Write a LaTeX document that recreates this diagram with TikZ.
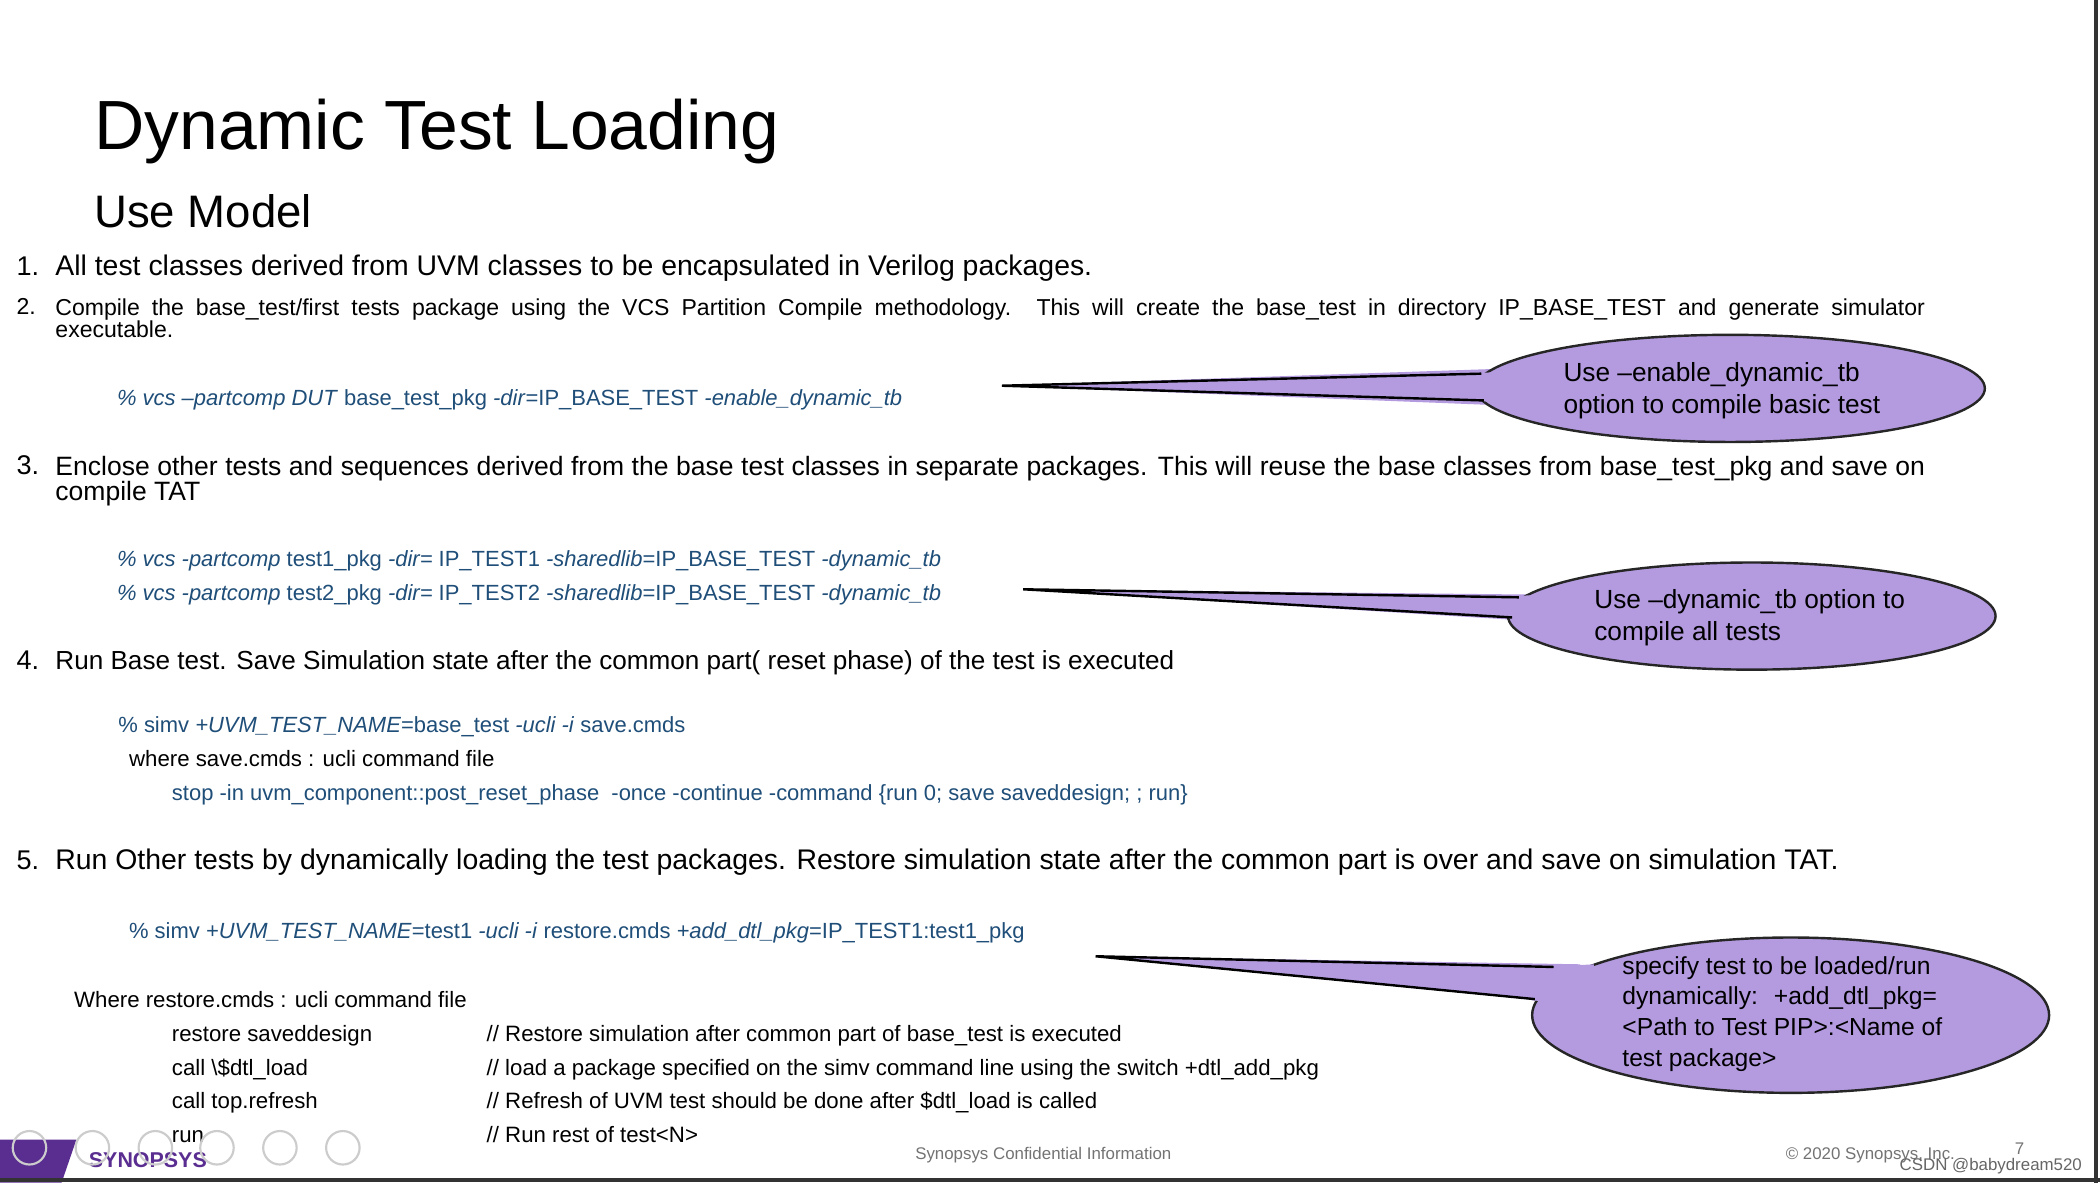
\documentclass[tikz,border=0pt]{standalone}
\usepackage{fontspec}
\setmainfont{Liberation Sans}
\usetikzlibrary{shapes.geometric}
\begin{document}
\begin{tikzpicture}[x=0.5pt,y=-0.5pt,
  every node/.style={inner sep=0pt,anchor=base west},
  tl/.style={font=\fontsize{10.1}{12}\selectfont},
  sm/.style={font=\fontsize{8.6}{8.2}\selectfont},
  cmd/.style={font=\fontsize{8.2}{10}\selectfont,text=cmdblue},
  rs/.style={font=\fontsize{8.3}{10}\selectfont},
  bub/.style={fill=bubble,draw=black!85,line width=0.9pt},
  btxt/.style={font=\fontsize{9.8}{12}\selectfont,align=left,anchor=west},
  foot/.style={font=\fontsize{6.3}{7}\selectfont,text=black!55}]
\definecolor{cmdblue}{HTML}{1F4E79}
\definecolor{bubble}{HTML}{B49BE0}
\definecolor{synp}{HTML}{5A2D91}
\useasboundingbox (0,0) rectangle (1568,883);
\fill[white] (0,0) rectangle (1568,883);
% title
\node[font=\fontsize{26}{30}\selectfont] (title) at (70,112) {Dynamic Test Loading};
\node[font=\fontsize{17}{20}\selectfont] (sub) at (70,170) {Use Model};
% item 1
\node[tl] (n1) at (12,206) {1.};
\node[tl,font=\fontsize{10.6}{12}\selectfont] (t1) at (41,206) {All test classes derived from UVM classes to be encapsulated in Verilog packages.};
% item 2
\node[sm] (n2) at (12,235) {2.};
\node[sm,anchor=north west,text width=698pt,align=justify] (t2) at (41,223) {Compile the base\_test/first tests package using the VCS Partition Compile methodology. This will create the base\_test in directory IP\_BASE\_TEST and generate simulator\linebreak executable.};
\node[cmd] (c1) at (87,303) {\textit{\% vcs –partcomp DUT} base\_test\_pkg \textit{-dir}=IP\_BASE\_TEST \textit{-enable\_dynamic\_tb}};
% item 3
\node[tl] (n3) at (12,354) {3.};
\node[tl,anchor=north west,text width=698pt,align=justify,font=\fontsize{9.9}{9.6}\selectfont] (t3) at (41,340) {Enclose other tests and sequences derived from the base test classes in separate packages. This will reuse the base classes from base\_test\_pkg and save on compile TAT};
\node[cmd] (c2) at (87,423) {\textit{\% vcs -partcomp} test1\_pkg \textit{-dir=} IP\_TEST1 \textit{-sharedlib}=IP\_BASE\_TEST \textit{-dynamic\_tb}};
\node[cmd] (c3) at (87,448) {\textit{\% vcs -partcomp} test2\_pkg \textit{-dir=} IP\_TEST2 \textit{-sharedlib}=IP\_BASE\_TEST \textit{-dynamic\_tb}};
% item 4
\node[tl] (n4) at (12,500) {4.};
\node[tl,font=\fontsize{9.75}{12}\selectfont] (t4) at (41,500) {Run Base test. Save Simulation state after the common part( reset phase) of the test is executed};
\node[cmd] (c4) at (88,547) {\% simv \textit{+UVM\_TEST\_NAME}=base\_test \textit{-ucli -i} save.cmds};
\node[rs] (w4) at (96,572) {where save.cmds : ucli command file};
\node[cmd] (s4) at (128,598) {stop -in uvm\_component::post\_reset\_phase \ -once -continue -command \{run 0; save saveddesign; ; run\}};
% item 5
\node[tl] (n5) at (12,649) {5.};
\node[tl,font=\fontsize{10.6}{12}\selectfont] (t5) at (41,649) {Run Other tests by dynamically loading the test packages. Restore simulation state after the common part is over and save on simulation TAT.};
\node[cmd] (c5) at (96,701) {\% simv \textit{+UVM\_TEST\_NAME}=test1 \textit{-ucli -i} restore.cmds \textit{+add\_dtl\_pkg}=IP\_TEST1:test1\_pkg};
\node[rs] (w5) at (55,752) {Where restore.cmds : ucli command file};
\node[rs] (r1) at (128,778) {restore saveddesign};
\node[rs] (r2) at (128,803) {call \textbackslash\$dtl\_load};
\node[rs] (r3) at (128,828) {call top.refresh};
\node[rs] (r4) at (128,853) {run};
\node[rs] (k1) at (363,778) {// Restore simulation after common part of base\_test is executed};
\node[rs] (k2) at (363,803) {// load a package specified on the simv command line using the switch +dtl\_add\_pkg};
\node[rs] (k3) at (363,828) {// Refresh of UVM test should be done after \$dtl\_load is called};
\node[rs] (k4) at (363,853) {// Run rest of test<N>};
% callout 1
\coordinate (tip1) at (748,288);
\fill[bubble] (tip1) -- (1130,275) -- (1130,303) -- cycle;
\node[bub,ellipse,minimum width=190pt,minimum height=40pt,anchor=center] (e1) at (1292,290) {};
\fill[bubble] (1100,279) -- (1140,276) -- (1140,302) -- (1100,299) -- cycle;
\draw[line width=0.9pt] (tip1) -- (1106,279) (tip1) -- (1108,299);
\node[btxt] (b1) at (1167,292) {Use –enable\_dynamic\_tb\\option to compile basic test};
% callout 2
\coordinate (tip2) at (764,440);
\fill[bubble] (tip2) -- (1150,444) -- (1150,464) -- cycle;
\node[bub,ellipse,minimum width=182pt,minimum height=40pt,anchor=center] (e2) at (1308,460) {};
\fill[bubble] (1128,445) -- (1160,444) -- (1160,464) -- (1124,461) -- cycle;
\draw[line width=0.9pt] (tip2) -- (1134,446) (tip2) -- (1129,461);
\node[btxt] (b2) at (1190,461) {Use –dynamic\_tb option to\\compile all tests};
% callout 3
\coordinate (tip3) at (818,714);
\fill[bubble] (tip3) -- (1180,720) -- (1180,750) -- cycle;
\node[bub,ellipse,minimum width=193pt,minimum height=58pt,anchor=center] (e3) at (1337,758) {};
\fill[bubble] (1155,722) -- (1190,720) -- (1190,750) -- (1144,747) -- cycle;
\draw[line width=0.9pt] (tip3) -- (1160,722) (tip3) -- (1146,746);
\node[btxt,font=\fontsize{9.2}{11.4}\selectfont] (b3) at (1211,757) {specify test to be loaded/run\\dynamically: \ +add\_dtl\_pkg=\\<Path to Test PIP>:<Name of\\test package>};
% footer
\fill[synp] (0,851) -- (57,851) -- (46,883) -- (0,883) -- cycle;
\node[font=\bfseries\fontsize{8}{9}\selectfont,text=synp] (logo) at (66,872) {SYNOPSYS};
\foreach \cx/\nm in {22/i1,69/i2,116/i3,162/i4,209/i5,256/i6}
  \draw[black!20,line width=0.8pt] (\cx,857) circle (12.5);
\node[foot] (f1) at (683,866) {Synopsys Confidential Information};
\node[foot] (f2) at (1333,866) {© 2020 Synopsys, Inc.};
\node[foot] (f3) at (1504,862) {7};
\node[foot,text=black!60] (f4) at (1418,874) {CSDN @babydream520};
\draw[black!80,line width=1.2pt] (1565,0) -- (1565,883);
\draw[black!80,line width=1.5pt] (0,881) -- (1568,881);
\end{tikzpicture}
\end{document}
